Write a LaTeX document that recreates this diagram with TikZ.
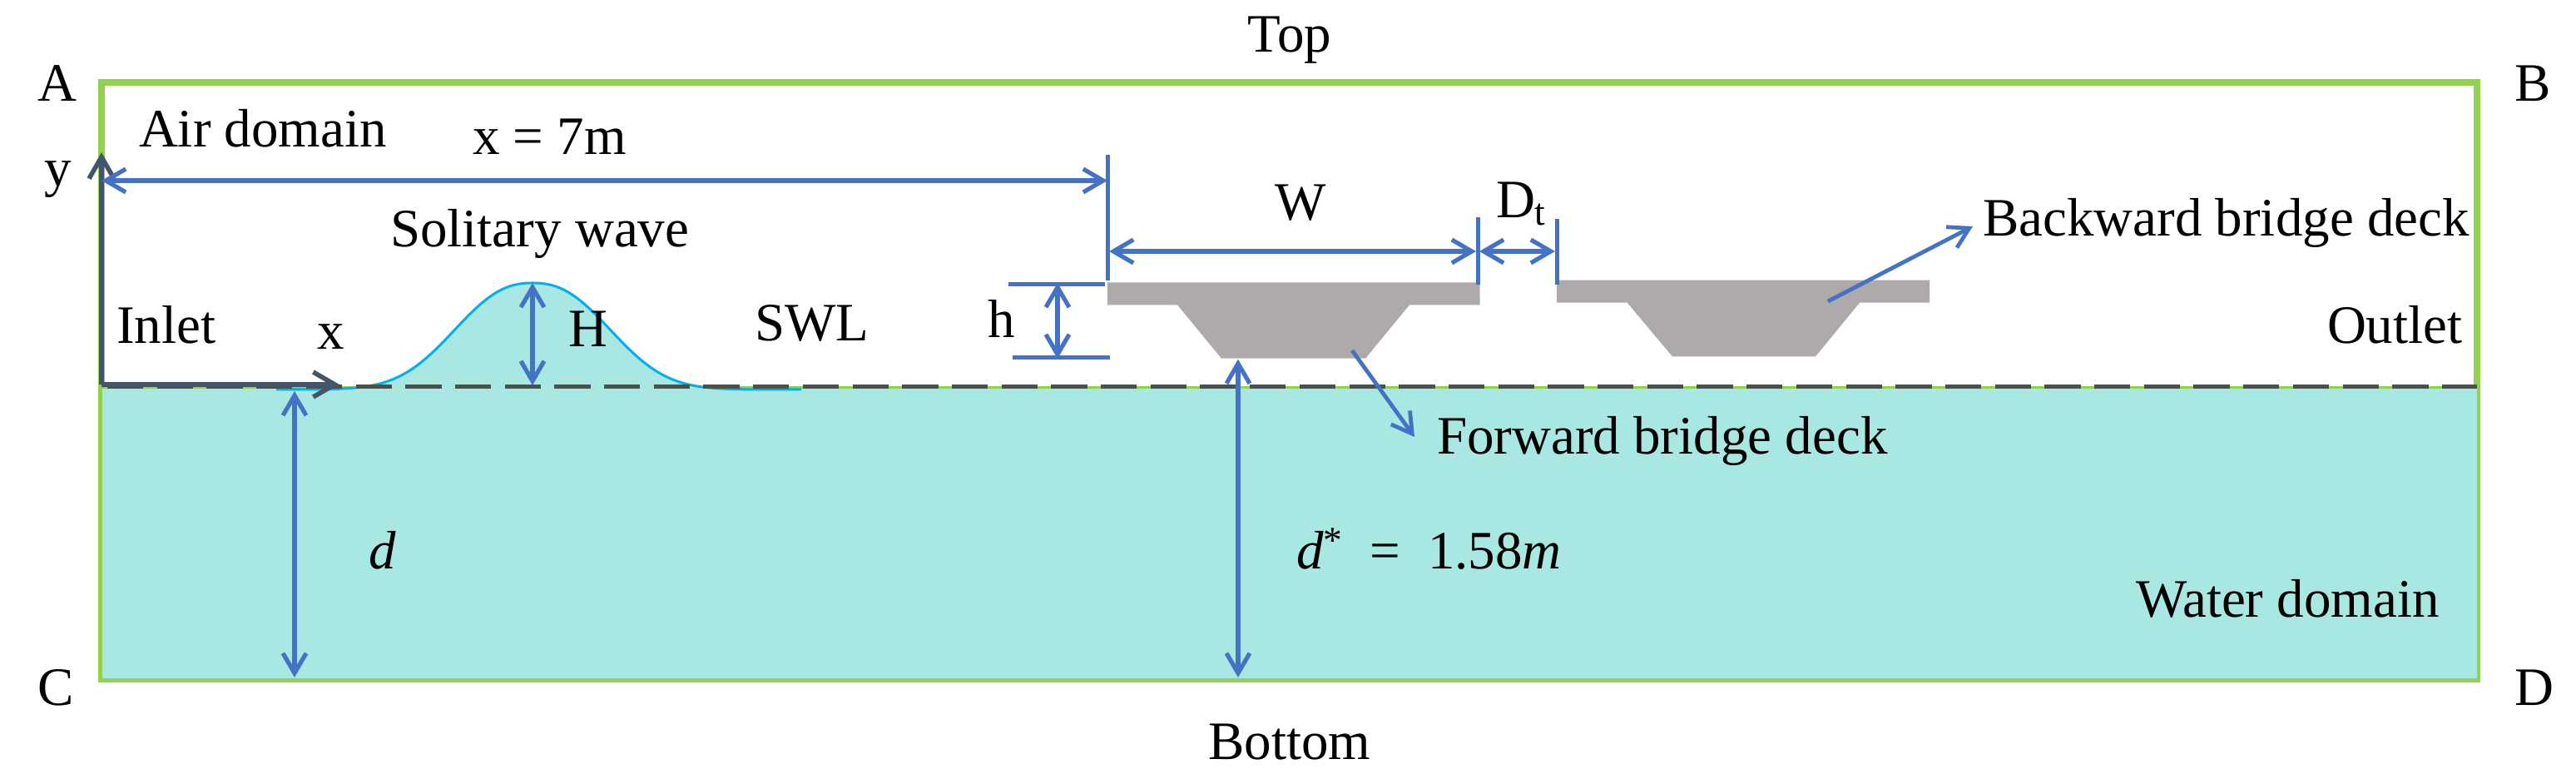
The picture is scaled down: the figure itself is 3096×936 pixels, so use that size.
\documentclass[tikz,border=0pt]{standalone}
\usepackage{fontspec}
\setmainfont{Liberation Serif}
\usetikzlibrary{arrows.meta}
\definecolor{framegreen}{HTML}{92D050}
\definecolor{watercol}{HTML}{A9E8E2}
\definecolor{dimblue}{HTML}{4472C4}
\definecolor{axisgray}{HTML}{44546A}
\definecolor{deckgray}{HTML}{AEAAAA}
\definecolor{wavecol}{HTML}{00B0F0}
\definecolor{dashcol}{HTML}{46524C}
\tikzset{
  lbl/.style={anchor=base west,inner sep=0pt,outer sep=0pt,font=\fontsize{32.5}{36}\selectfont},
  dim/.style={draw=dimblue,line width=2.8pt,{Straight Barb[length=12pt,width=14pt,line width=2.6pt]}-{Straight Barb[length=12pt,width=14pt,line width=2.6pt]}},
  lead/.style={draw=dimblue,line width=2.4pt,-{Straight Barb[length=12pt,width=14pt,line width=2.4pt]}},
  tick/.style={draw=dimblue,line width=2.5pt},
  axis/.style={draw=axisgray,line width=2.8pt,-{Straight Barb[length=13pt,width=15pt,line width=2.8pt]}},
  deck/.style={fill=deckgray,draw=none},
}
\newcommand{\waveY}[1]{464+4-128*exp(-pow((abs(#1)+0.5)/118,2.4))}
\begin{document}
\begin{tikzpicture}[x=0.5pt,y=-0.5pt]
  \useasboundingbox (0,0) rectangle (3096,936);

  % frame, water over its lower part
  \draw[framegreen,line width=4pt] (122,99) rectangle (2977,816);
  \fill[framegreen] (122,464) rectangle (2977,466.7);
  \fill[watercol] (123.3,466.7) rectangle (2976.7,815);

  % wave
  \fill[watercol] plot[domain=-308:323,samples=140] ({640+\x},{\waveY{\x}}) -- cycle;
  \draw[wavecol,line width=1.5pt] plot[domain=-308:323,samples=140] ({640+\x},{\waveY{\x}});

  % still water level
  \draw[dashcol,line width=2.5pt,dash pattern=on 21.65pt off 8.2pt] (129,464.2) -- (2977,464.2);

  % decks
  \fill[deck] (1331,339.3) -- (1778.7,339.3) -- (1778.7,366.3) -- (1694,366.3) -- (1641,430.7)
     -- (1468,430.7) -- (1415,366.3) -- (1331,366.3) -- cycle;
  \fill[deck] (1871,336.7) -- (2319,336.7) -- (2319,363.7) -- (2235,363.7) -- (2182,428.3)
     -- (2010,428.3) -- (1955.7,363.7) -- (1871,363.7) -- cycle;

  % end points
  \coordinate (org) at (122,462);
  \coordinate (yEnd) at (122,183);
  \coordinate (xEnd) at (408,462);
  \coordinate (xdA) at (122,217);
  \coordinate (xdB) at (1331,217);
  \coordinate (tickAt) at (1331,186);
  \coordinate (tickAb) at (1331,337);
  \coordinate (tickBt) at (1776,261);
  \coordinate (tickBb) at (1776,342);
  \coordinate (tickCt) at (1871,263);
  \coordinate (tickCb) at (1871,342);
  \coordinate (wA) at (1333,302);
  \coordinate (wB) at (1774,302);
  \coordinate (dtA) at (1778,302);
  \coordinate (dtB) at (1869,302);
  \coordinate (hbarAl) at (1212,342);
  \coordinate (hbarAr) at (1328,342);
  \coordinate (hbarBl) at (1217,429);
  \coordinate (hbarBr) at (1334,429);
  \coordinate (hA) at (1271,340);
  \coordinate (hB) at (1271,431);
  \coordinate (wvA) at (640,340);
  \coordinate (wvB) at (640,463);
  \coordinate (dA) at (354,470);
  \coordinate (dB) at (354,814);
  \coordinate (dsA) at (1488,431.7);
  \coordinate (dsB) at (1488,814);
  \coordinate (fwA) at (1625,421);
  \coordinate (fwB) at (1700,525);
  \coordinate (bwA) at (2197,362);
  \coordinate (bwB) at (2371,272);

  % axes
  \draw[axis] (org) -- (yEnd);
  \draw[axis] (org) -- (xEnd);

  % dimensions
  \draw[tick] (tickAt) -- (tickAb);
  \draw[tick] (tickBt) -- (tickBb);
  \draw[tick] (tickCt) -- (tickCb);
  \draw[tick] (hbarAl) -- (hbarAr);
  \draw[tick] (hbarBl) -- (hbarBr);
  \draw[dim] (xdA) -- (xdB);
  \draw[dim] (wA) -- (wB);
  \draw[dim] (dtA) -- (dtB);
  \draw[dim] (hA) -- (hB);
  \draw[dim] (wvA) -- (wvB);
  \draw[dim] (dA) -- (dB);
  \draw[dim] (dsA) -- (dsB);
  \draw[lead] (fwA) -- (fwB);
  \draw[lead] (bwA) -- (bwB);

  % labels
  \node[lbl] (tA) at (45,122) {A};
  \node[lbl] (tB) at (3022,122) {B};
  \node[lbl] (tC) at (45,847) {C};
  \node[lbl] (tD) at (3022,847) {D};
  \node[lbl,anchor=base] (tTop) at (1550,63) {Top};
  \node[lbl,anchor=base] (tBottom) at (1550,912) {Bottom};
  \node[lbl] (tAir) at (167,177) {Air domain};
  \node[lbl] (tSeven) at (568,186) {x = 7m};
  \node[lbl] (ty) at (54,224) {y};
  \node[lbl] (tSol) at (469,297) {Solitary wave};
  \node[lbl] (tInlet) at (140,412) {Inlet};
  \node[lbl] (tx) at (381,419) {x};
  \node[lbl] (tH) at (683,416) {H};
  \node[lbl] (tSWL) at (907,409) {SWL};
  \node[lbl] (th) at (1187,406) {h};
  \node[lbl] (tW) at (1532,265) {W};
  \node[lbl] (tDt) at (1798,262) {D\textsubscript{t}};
  \node[lbl] (tBack) at (2383,284) {Backward bridge deck};
  \node[lbl] (tOut) at (2797,412) {Outlet};
  \node[lbl] (tFor) at (1727,545) {Forward bridge deck};
  \node[lbl] (td) at (443,683) {\textit{d}};
  \node[lbl] (tds) at (1558,683) {\textit{d}\textsuperscript{*}\hspace{0.5em}=\hspace{0.5em}1.58\textit{m}};
  \node[lbl] (tWater) at (2567,741) {Water domain};
\end{tikzpicture}
\end{document}
